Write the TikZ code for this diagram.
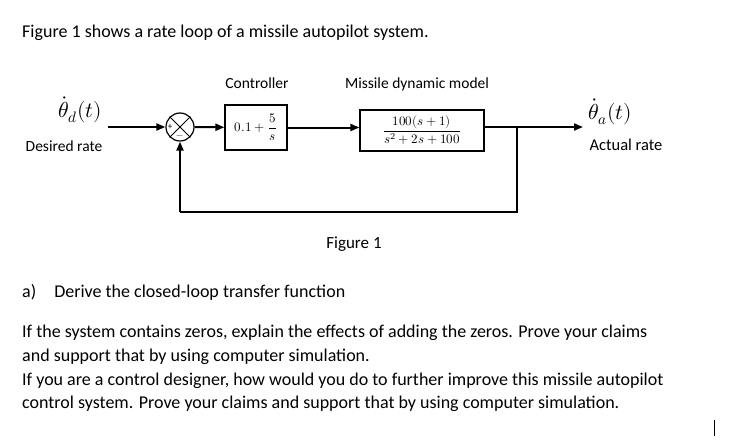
\documentclass[tikz,border=0pt]{standalone}
\usepackage{fontspec}
\setmainfont{Carlito}
\usepackage{unicode-math}
\setmathfont{Latin Modern Math}
\usepackage{graphicx}
\usetikzlibrary{arrows.meta}
\begin{document}
\begin{tikzpicture}[x=1pt,y=-1pt,
  blk/.style={draw,line width=1.2pt,inner sep=0pt},
  sig/.style={line width=2pt,-{Triangle[length=9pt,width=7pt]}},
  wire/.style={line width=2pt},
  lbl/.style={font=\fontsize{15.5}{18}\selectfont,inner sep=0pt},
  txt/.style={font=\fontsize{18}{22}\selectfont,anchor=west,inner sep=0pt}]
\useasboundingbox (0,0) rectangle (752,439);
\node[txt] (title) at (22,33) {Figure 1 shows a rate loop of a missile autopilot system.};
\node[draw,circle,line width=1.2pt,minimum size=28pt,inner sep=0pt] (sum) at (180,127) {};
\draw[line width=1pt] (sum.north west) -- (sum.south east) (sum.north east) -- (sum.south west);
\node[font=\fontsize{9}{9}\selectfont,inner sep=0pt] (plus) at (170,127) {+};
\node[font=\fontsize{9}{9}\selectfont,inner sep=0pt] (minus) at (180,137) {$-$};
\node[blk,minimum width=62pt,minimum height=45pt] (ctl) at (256,127.5) {\scalebox{1.3}{$0.1+\dfrac{5}{s}$}};
\node[blk,minimum width=124pt,minimum height=41pt] (plant) at (422,130.5) {\scalebox{1.3}{$\dfrac{100(s+1)}{s^2+2s+100}$}};
\coordinate (in) at (108,127);
\coordinate (out) at (583,127);
\coordinate (br) at (517,127);
\coordinate (fb1) at (517,212);
\coordinate (fb2) at (180,212);
\draw[sig] (in) -- (sum);
\draw[sig] (sum) -- (ctl);
\draw[sig] (ctl) -- (ctl -| plant.west);
\draw[sig] (plant.east |- br) -- (out);
\draw[wire] (br) -- (fb1) -- (fb2);
\draw[sig] (fb2) -- (sum);
\node[lbl] (thd) at (80,110) {\scalebox{1.4}{$\dot{\theta}_d(t)$}};
\node[lbl] (dr) at (64,146) {Desired rate};
\node[lbl] (cl) at (257,83) {Controller};
\node[lbl] (ml) at (417,84) {Missile dynamic model};
\node[lbl] (tha) at (610,112) {\scalebox{1.4}{$\dot{\theta}_a(t)$}};
\node[lbl,font=\fontsize{16.5}{18}\selectfont] (ar) at (626,145) {Actual rate};
\node[lbl,font=\fontsize{17}{20}\selectfont] (fig) at (354,244) {Figure 1};
\node[txt] (a) at (22,292) {a)\quad Derive the closed-loop transfer function};
\node[txt,align=left,anchor=north west,font=\fontsize{18}{23.7}\selectfont] (p) at (22,325) {If the system contains zeros, explain the effects of adding the zeros. Prove your claims\\and support that by using computer simulation.\\If you are a control designer, how would you do to further improve this missile autopilot\\control system. Prove your claims and support that by using computer simulation.};
\draw[line width=0.6pt] (714,420) -- (714,436);
\end{tikzpicture}
\end{document}
